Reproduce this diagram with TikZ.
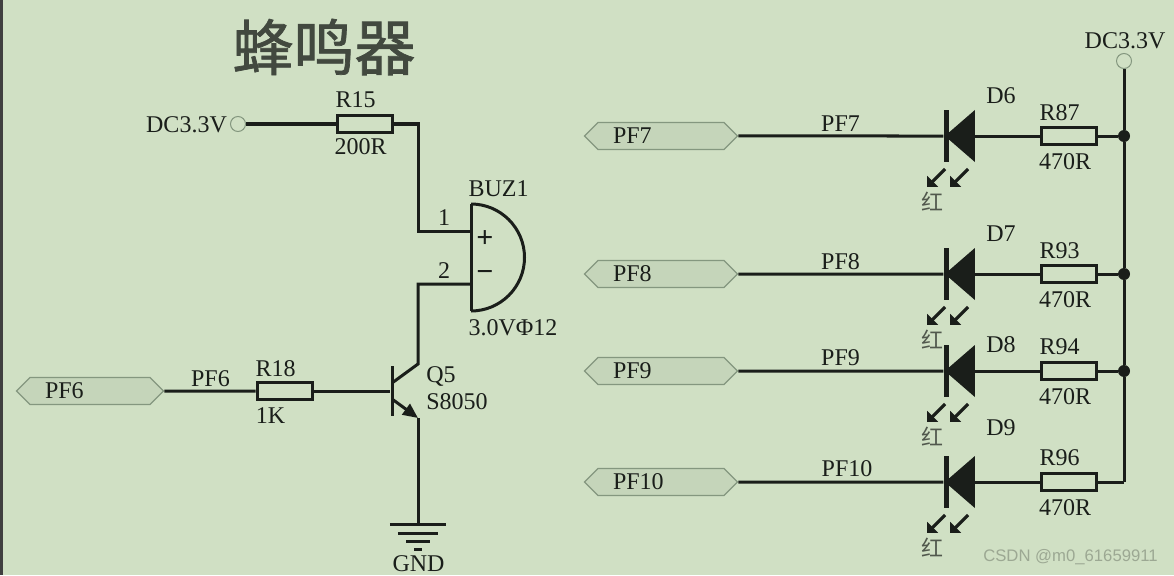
\documentclass[tikz,border=0pt]{standalone}
\usepackage{fontspec}
\setmainfont{Liberation Serif}
\newfontfamily\cjk{Noto Sans CJK SC}
\newfontfamily\cjktitle{Noto Sans CJK SC}[FakeBold=1.2]
\newfontfamily\wmfont{Liberation Sans}
\usetikzlibrary{arrows.meta,shapes.geometric,shapes.symbols}
\definecolor{boardbg}{HTML}{D0E0C4}
\definecolor{portfill}{HTML}{C5D5BA}
\definecolor{portline}{HTML}{84977F}
\definecolor{ink}{HTML}{1A1E1A}
\begin{document}
\begin{tikzpicture}[x=1pt,y=-1pt]
    \tikzstyle{txt} = [inner sep=0pt, text=ink, yshift=-1pt, font=\fontsize{24}{24}\selectfont]
    \tikzstyle{wire} = [line width=3pt, draw=ink]
    \tikzstyle{res} = [draw=ink, line width=3pt, inner sep=0pt, minimum width=55pt, minimum height=17pt]
    \tikzstyle{pin} = [circle, draw=portline, line width=1pt, inner sep=0pt, minimum size=15pt]
    \tikzstyle{dot} = [circle, fill=ink, inner sep=0pt, minimum size=12pt]
    \tikzstyle{port} = [signal, signal to=west and east, signal pointer angle=90, draw=portline, fill=portfill,
        line width=1.2pt, inner xsep=0pt, inner ysep=0pt, minimum height=27pt, align=left, text=ink,
        font=\fontsize{24}{24}\selectfont]
    \tikzstyle{ledbar} = [fill=ink, inner sep=0pt, minimum width=5pt, minimum height=52pt]
    \tikzstyle{ledtri} = [isosceles triangle, isosceles triangle stretches, shape border rotate=180, fill=ink,
        inner sep=0pt, minimum width=52pt, minimum height=30pt]
    \tikzstyle{ray} = [line width=3.2pt, draw=ink, -{Triangle[length=8pt,width=15pt]}]
    \tikzstyle{hong} = [inner sep=0pt, text=ink!70!boardbg, font=\cjk\fontsize{22}{22}\selectfont]
    \tikzstyle{gndbar} = [line width=3pt, draw=ink]

    \useasboundingbox (0,0) rectangle (1174,575);
    \fill[boardbg] (0,0) rectangle (1174,575);
    \fill[black!75] (0,0) rectangle (3,575);

    \node[inner sep=0pt, text=ink!78!boardbg, font=\cjktitle\fontsize{61}{61}\selectfont] (title) at (324,47) {蜂鸣器};
    \node[inner sep=0pt, text=black!25!boardbg, font=\wmfont\fontsize{16.7}{17}\selectfont] (mark) at (1070.5,557) {CSDN @m0\_61659911};

    \node[txt] (vcca) at (186.5,124) {DC3.3V};
    \node[pin] (pina) at (238,124) {};
    \node[res] (r15) at (364.5,124) {};
    \node[txt] (r15n) at (355.5,99) {R15};
    \node[txt] (r15v) at (360.5,146) {200R};
    \coordinate (c1) at (418,124);
    \coordinate (buzp) at (471,231);
    \coordinate (buzm) at (471,284);
    \coordinate (buzt) at (471,204);
    \coordinate (buzb) at (471,311);
    \coordinate (c2) at (418,231);
    \coordinate (c3) at (418,284);
    \coordinate (qc) at (418,364);
    \coordinate (qe) at (418,418);
    \coordinate (qcb) at (392,383);
    \coordinate (qeb) at (392,399);
    \draw[wire] (pina) -- (r15);
    \draw[wire] (r15) -- (c1) -- (c2) -- (buzp);
    \draw[wire] (buzm) -- (c3) -- (qc) -- (qcb);
    \draw[wire] (buzt) -- (buzb);
    \draw[wire] (buzt) arc (90:-90:53.5pt);
    \node[txt] (pin1) at (444,217) {1};
    \node[txt] (pin2) at (444,270) {2};
    \node[txt] (buzn) at (498.5,188) {BUZ1};
    \node[txt] (buzv) at (513,327) {3.0VΦ12};
    \node[inner sep=0pt, text=ink, font=\bfseries\fontsize{30}{30}\selectfont] (plus) at (485,239) {+};
    \node[inner sep=0pt, text=ink, font=\bfseries\fontsize{30}{30}\selectfont] (minus) at (485,276) {−};

    \node[port, text width=120pt] (pf6) at (90,391) {\hspace*{15pt}\raisebox{-1pt}{PF6}};
    \node[res] (r18) at (284.5,391) {};
    \node[txt] (r18n) at (275.5,368) {R18};
    \node[txt] (r18v) at (270.5,415) {1K};
    \node[txt] (pf6w) at (210.5,378) {PF6};
    \node[fill=ink, inner sep=0pt, minimum width=3pt, minimum height=50pt] (q5) at (392,391) {};
    \node[txt] (q5n) at (441,375) {Q5};
    \node[txt] (q5v) at (457,401) {S8050};
    \draw[wire] (pf6) -- (r18);
    \draw[wire] (r18) -- (q5);
    \draw[wire, -{Triangle[length=15pt,width=13pt]}] (qeb) -- (qe);

    \coordinate (g0) at (418,524);
    \node[inner sep=0pt, minimum width=56pt, minimum height=0pt] (g1) at (418,524) {};
    \node[inner sep=0pt, minimum width=40pt, minimum height=0pt] (g2) at (418,533) {};
    \node[inner sep=0pt, minimum width=23pt, minimum height=0pt] (g3) at (418,541) {};
    \node[inner sep=0pt, minimum width=7pt, minimum height=0pt] (g4) at (418,549) {};
    \draw[wire] (qe) -- (g0);
    \draw[gndbar] (g1.west) -- (g1.east);
    \draw[gndbar] (g2.west) -- (g2.east);
    \draw[gndbar] (g3.west) -- (g3.east);
    \draw[gndbar] (g4.west) -- (g4.east);
    \node[inner sep=0pt, text=ink, font=\fontsize{24}{24}\selectfont] (gnd) at (418.5,564) {GND};

    \node[txt] (vccb) at (1125,40) {DC3.3V};
    \node[pin] (pinb) at (1124,61) {};
    \node[dot] (j7) at (1124,136) {};
    \node[dot] (j8) at (1124,274) {};
    \node[dot] (j9) at (1124,371) {};
    \coordinate (j10) at (1124,482);
    \draw[wire] (pinb) -- (j7) -- (j8) -- (j9) -- (j10);

    \node[port, text width=126pt] (pf7) at (661,136) {\hspace*{15pt}\raisebox{-1pt}{PF7}};
    \node[txt] (pf7w) at (840.5,123) {PF7};
    \node[ledbar] (d6b) at (946,136) {};
    \node[ledtri] (d6) at (963,136) {};
    \node[txt] (d6n) at (1001,95) {D6};
    \node[res] (r87) at (1069,136) {};
    \node[txt] (r87n) at (1059.5,112) {R87};
    \node[txt] (r87v) at (1065,161) {470R};
    \coordinate (a6a) at (945,169);
    \coordinate (a6b) at (927,187);
    \coordinate (a6c) at (968,169);
    \coordinate (a6d) at (950,187);
    \node[hong] (h6) at (932,202) {红};
    \draw[wire] (pf7) -- (d6b);
    \draw[wire] (d6) -- (r87);
    \draw[wire] (r87) -- (j7);
    \draw[ray] (a6a) -- (a6b);
    \draw[ray] (a6c) -- (a6d);

    \node[port, text width=126pt] (pf8) at (661,274) {\hspace*{15pt}\raisebox{-1pt}{PF8}};
    \node[txt] (pf8w) at (840.5,261) {PF8};
    \node[ledbar] (d7b) at (946,274) {};
    \node[ledtri] (d7) at (963,274) {};
    \node[txt] (d7n) at (1001,233) {D7};
    \node[res] (r93) at (1069,274) {};
    \node[txt] (r93n) at (1059.5,250) {R93};
    \node[txt] (r93v) at (1065,299) {470R};
    \coordinate (a7a) at (945,307);
    \coordinate (a7b) at (927,325);
    \coordinate (a7c) at (968,307);
    \coordinate (a7d) at (950,325);
    \node[hong] (h7) at (932,340) {红};
    \draw[wire] (pf8) -- (d7b);
    \draw[wire] (d7) -- (r93);
    \draw[wire] (r93) -- (j8);
    \draw[ray] (a7a) -- (a7b);
    \draw[ray] (a7c) -- (a7d);

    \node[port, text width=126pt] (pf9) at (661,371) {\hspace*{15pt}\raisebox{-1pt}{PF9}};
    \node[txt] (pf9w) at (840.5,357) {PF9};
    \node[ledbar] (d8b) at (946,371) {};
    \node[ledtri] (d8) at (963,371) {};
    \node[txt] (d8n) at (1001,344) {D8};
    \node[res] (r94) at (1069,371) {};
    \node[txt] (r94n) at (1059.5,346) {R94};
    \node[txt] (r94v) at (1065,396) {470R};
    \coordinate (a8a) at (945,404);
    \coordinate (a8b) at (927,422);
    \coordinate (a8c) at (968,404);
    \coordinate (a8d) at (950,422);
    \node[hong] (h8) at (932,437) {红};
    \draw[wire] (pf9) -- (d8b);
    \draw[wire] (d8) -- (r94);
    \draw[wire] (r94) -- (j9);
    \draw[ray] (a8a) -- (a8b);
    \draw[ray] (a8c) -- (a8d);

    \node[port, text width=126pt] (pf10) at (661,482) {\hspace*{15pt}\raisebox{-1pt}{PF10}};
    \node[txt] (pf10w) at (847,468) {PF10};
    \node[ledbar] (d9b) at (946,482) {};
    \node[ledtri] (d9) at (963,482) {};
    \node[txt] (d9n) at (1001,427) {D9};
    \node[res] (r96) at (1069,482) {};
    \node[txt] (r96n) at (1059.5,457) {R96};
    \node[txt] (r96v) at (1065,507) {470R};
    \coordinate (a9a) at (945,515);
    \coordinate (a9b) at (927,533);
    \coordinate (a9c) at (968,515);
    \coordinate (a9d) at (950,533);
    \node[hong] (h9) at (932,548) {红};
    \draw[wire] (pf10) -- (d9b);
    \draw[wire] (d9) -- (r96);
    \draw[wire] (r96) -- (j10);
    \draw[ray] (a9a) -- (a9b);
    \draw[ray] (a9c) -- (a9d);
\end{tikzpicture}
\end{document}
